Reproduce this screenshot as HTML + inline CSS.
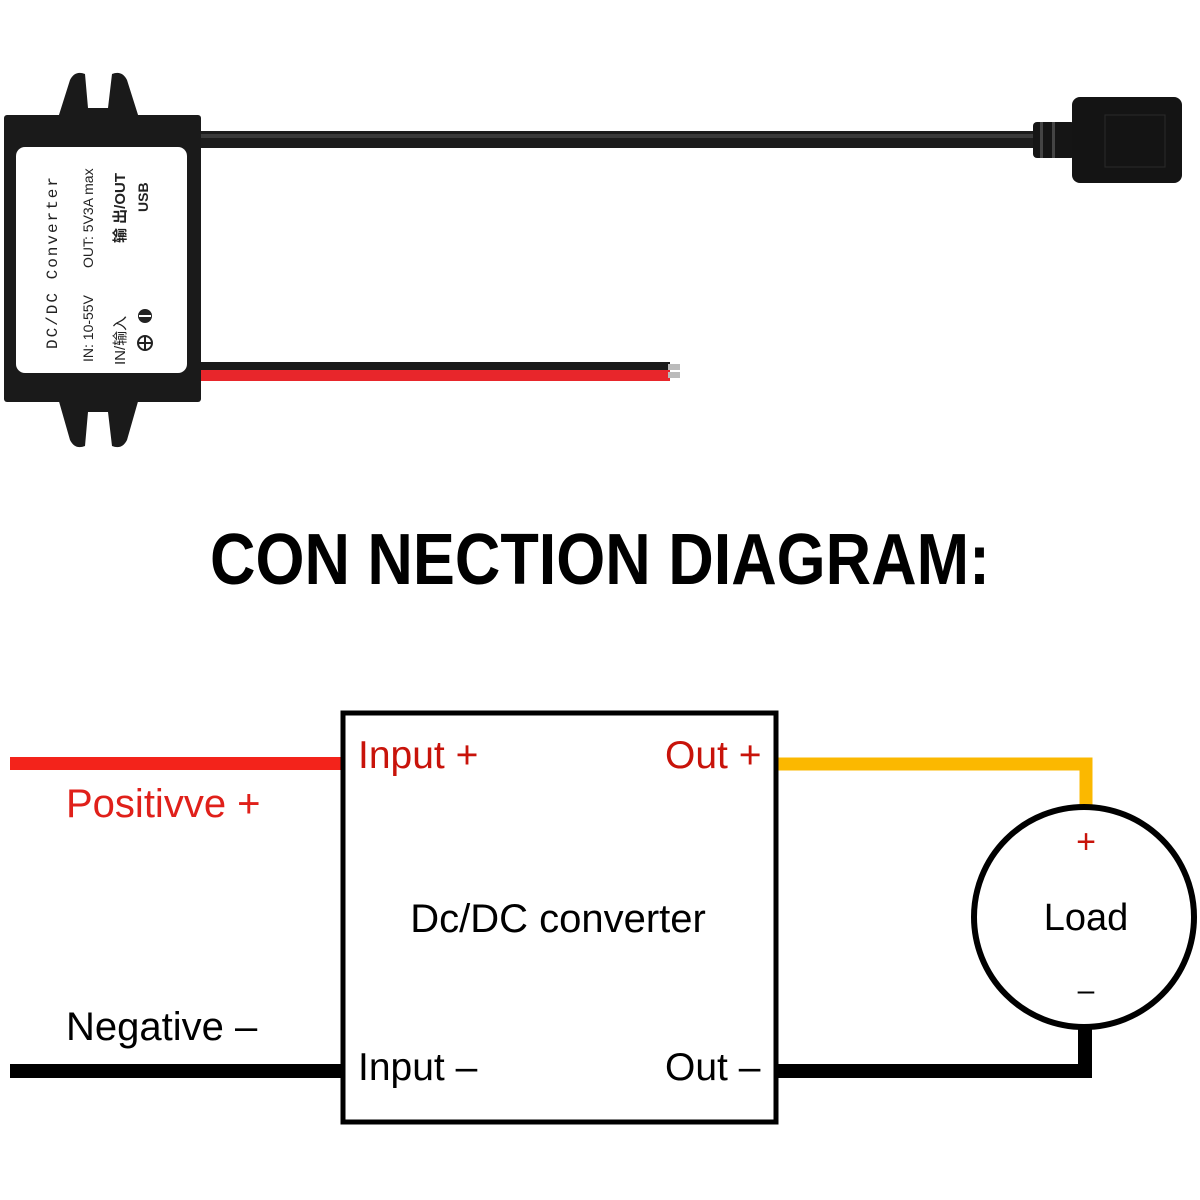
<!DOCTYPE html>
<html><head><meta charset="utf-8"><style>html,body{margin:0;padding:0;background:#fff}svg{display:block}</style></head>
<body>
<svg width="1200" height="1200" viewBox="0 0 1200 1200" xmlns="http://www.w3.org/2000/svg" font-family="'Liberation Sans','Noto Sans CJK SC',sans-serif">
<rect width="1200" height="1200" fill="#fff"/>
<path d="M58 118 L70 80 Q75 70 85 74 L88 108 L108 108 L112 74 Q122 70 127 80 L139 118 Z" fill="#1a1a1a"/>
<path d="M58 398 L70 440 Q75 450 85 446 L88 412 L108 412 L112 446 Q122 450 127 440 L139 398 Z" fill="#1a1a1a"/>
<rect x="195" y="131" width="845" height="17" rx="6" fill="#1c1c1c"/>
<rect x="195" y="134" width="845" height="4" fill="#3a3a3a"/>
<rect x="1033" y="122" width="42" height="36" rx="4" fill="#151515"/>
<rect x="1040" y="122" width="3" height="36" fill="#444"/>
<rect x="1052" y="122" width="3" height="36" fill="#444"/>
<rect x="1072" y="97" width="110" height="86" rx="8" fill="#141414"/>
<rect x="1105" y="115" width="60" height="52" fill="none" stroke="#2a2a2a" stroke-width="1"/>
<rect x="195" y="362" width="475" height="9" fill="#1a1a1a"/>
<rect x="195" y="370" width="475" height="11" fill="#e8262b"/>
<rect x="668" y="364" width="12" height="6" fill="#bbb"/>
<rect x="668" y="372" width="12" height="6" fill="#bbb"/>
<rect x="4" y="115" width="197" height="287" rx="3" fill="#1a1a1a"/>
<rect x="16" y="147" width="171" height="226" rx="9" fill="#fff"/>
<g font-size="15" fill="#222">
<text transform="translate(57,262) rotate(-90)" text-anchor="middle" letter-spacing="2" font-family="'Liberation Mono',monospace" font-size="16">DC/DC Converter</text>
<text transform="translate(93,362) rotate(-90)" font-size="14">IN: 10-55V</text>
<text transform="translate(93,268) rotate(-90)" font-size="14">OUT: 5V3A max</text>
<text transform="translate(125,365) rotate(-90)" font-size="15">IN/输入</text>
<text transform="translate(125,243) rotate(-90)" font-size="15" font-weight="bold">输 出/OUT</text>
<text transform="translate(148,212) rotate(-90)" font-size="14" font-weight="bold">USB</text>
</g>
<circle cx="145" cy="343" r="7" fill="none" stroke="#222" stroke-width="2"/>
<path d="M138 343h14M145 336v14" stroke="#222" stroke-width="2"/>
<circle cx="145" cy="316" r="7" fill="#222"/>
<path d="M139 316h12" stroke="#fff" stroke-width="2"/>
<text x="600" y="584" text-anchor="middle" font-size="72" font-weight="bold" textLength="780" lengthAdjust="spacingAndGlyphs" fill="#000">CON NECTION DIAGRAM:</text>
<rect x="10" y="757" width="333" height="13" fill="#f3231b"/>
<path d="M778 764 H1086 V805" fill="none" stroke="#fbb800" stroke-width="13"/>
<rect x="10" y="1064" width="333" height="14" fill="#000"/>
<path d="M778 1071 H1085 V1024" fill="none" stroke="#000" stroke-width="14"/>
<rect x="343" y="713" width="433" height="409" fill="#fff" stroke="#000" stroke-width="5"/>
<circle cx="1084" cy="917" r="110" fill="#fff" stroke="#000" stroke-width="6"/>
<g font-size="39">
<text x="358" y="768" fill="#c8130a">Input +</text>
<text x="665" y="768" fill="#c8130a">Out +</text>
<text x="66" y="817" fill="#e0201a" font-size="40">Positivve +</text>
<text x="66" y="1040" fill="#000" font-size="40">Negative –</text>
<text x="358" y="1080" fill="#000">Input –</text>
<text x="665" y="1080" fill="#000">Out –</text>
<text x="558" y="932" fill="#000" text-anchor="middle" font-size="40">Dc/DC converter</text>
<text x="1086" y="930" fill="#000" text-anchor="middle" font-size="38">Load</text>
<text x="1086" y="853" fill="#c8130a" text-anchor="middle" font-size="34">+</text>
<text x="1086" y="1000" fill="#000" text-anchor="middle" font-size="30">–</text>
</g>
</svg>
</body></html>
